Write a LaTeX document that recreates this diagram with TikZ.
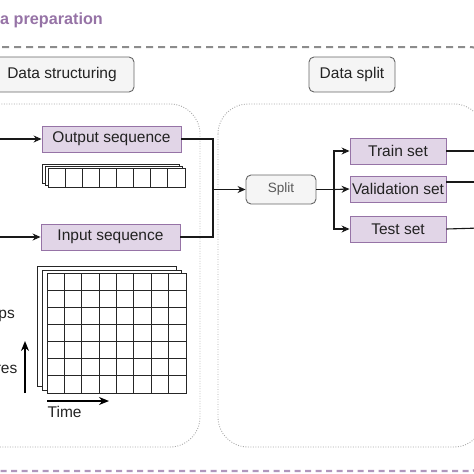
\documentclass[tikz,border=0pt]{standalone}
\usepackage{fontspec}
\setmainfont{Liberation Sans}
\usetikzlibrary{arrows.meta}
\definecolor{purpfill}{HTML}{E1D5E7}
\definecolor{purpline}{HTML}{9673A6}
\definecolor{grayfill}{HTML}{F5F5F5}
\definecolor{grayline}{HTML}{666666}
\definecolor{dotgray}{HTML}{A8A8A8}
\definecolor{txt}{HTML}{222222}
\begin{document}
\begin{tikzpicture}[x=1pt,y=-1pt,
  font=\fontsize{15.5}{18}\selectfont,
  pbox/.style={draw=purpline, fill=purpfill, line width=0.9pt, inner sep=0pt, text=txt},
  gbox/.style={draw=grayline, fill=grayfill, rounded corners=5pt, line width=0.9pt, inner sep=0pt, text=txt},
  conn/.style={draw=black!90, line width=1.1pt},
  arr/.style={conn, -{Stealth[length=8pt,width=7pt]}},
  axisarr/.style={draw=black, line width=1.6pt, -{Stealth[length=10pt,width=8pt]}},
  cell/.style={draw=black!85, line width=0.9pt},
  layer/.style={draw=black!85, line width=0.9pt, fill=white},
  dotrect/.style={draw=dotgray, line width=0.9pt, dash pattern=on 0.9pt off 1.6pt, rounded corners=30pt},
  outertop/.style={draw=black!45, line width=2pt, dash pattern=on 7pt off 5pt, rounded corners=15pt},
  outerbot/.style={draw=purpline!75, line width=2.2pt, dash pattern=on 6pt off 4.5pt, rounded corners=15pt},
  lbl/.style={inner sep=0pt, text=txt}]
\useasboundingbox (0,0) rectangle (474,474);
\clip (0,0) rectangle (474,474);

% outer dashed frame
\draw[outertop] (-10,47) -- (485,47) -- (485,120);
\draw[outerbot] (-10,471) -- (485,471) -- (485,400);

% title
\node[anchor=base west, inner sep=0pt, text=purpline, font=\bfseries\fontsize{16.2}{19}\selectfont] (title) at (0,24) {a preparation};

% dotted containers
\draw[dotrect] (-40,104) rectangle (200,447);
\draw[dotrect] (218,104) rectangle (484,447);

% header buttons
\node[gbox, minimum width=144pt, minimum height=35pt] (dstruct) at (62,74.5) {Data structuring};
\node[gbox, minimum width=86pt, minimum height=35pt] (dsplit) at (352,74.5) {Data split};

% sequence boxes
\node[pbox, minimum width=139pt, minimum height=26pt] (outseq) at (111.5,139) {Output sequence};
\node[pbox, minimum width=139pt, minimum height=26pt] (inseq) at (110.5,237) {Input sequence};

% split and sets
\node[gbox, minimum width=70pt, minimum height=29pt, text=black!65, font=\fontsize{13.5}{16}\selectfont] (split) at (281,189.5) {Split};
\node[pbox, minimum width=96pt, minimum height=26pt] (train) at (398,151) {Train set};
\node[pbox, minimum width=96pt, minimum height=26pt] (valid) at (398,189) {Validation set};
\node[pbox, minimum width=96pt, minimum height=26pt] (test) at (398,229) {Test set};

% free ends
\coordinate (inO) at (-5,139);
\coordinate (inI) at (-5,237);
\coordinate (j1) at (213,189.5);
\coordinate (j2) at (334,189.5);
\coordinate (oT) at (480,151);
\coordinate (oV) at (480,182);
\coordinate (oS) at (480,228);

% connectors
\draw[arr] (inO) -- (outseq.west);
\draw[arr] (inI) -- (inseq.west);
\draw[conn] (outseq.east) -| (j1);
\draw[conn] (inseq.east) -| (j1);
\draw[arr] (j1) -- (split.west);
\draw[conn] (split.east) -- (j2);
\draw[arr] (j2) |- (train.west);
\draw[arr] (j2) -- (valid.west);
\draw[arr] (j2) |- (test.west);
\draw[conn] (train.east) -- (oT);
\draw[conn] ([yshift=7pt]valid.east) -- (oV);
\draw[conn] (test.east) -- (oS);

% thin sequence array (3 layers)
\draw[layer] (42,164) rectangle ++(137,19);
\draw[layer] (45,166) rectangle ++(137,19);
\draw[layer] (48,168) rectangle ++(137,19);
\foreach \i in {1,...,7} \draw[cell] ({48+\i*137/8},168) -- ++(0,19);

% big grid (3 layers)
\draw[layer] (37,266) rectangle ++(139,120);
\draw[layer] (42,270) rectangle ++(139,120);
\draw[layer] (47,273) rectangle ++(139,120);
\foreach \i in {1,...,7} \draw[cell] ({47+\i*139/8},273) -- ++(0,120);
\foreach \j in {1,...,6} \draw[cell] (47,{273+\j*120/7}) -- ++(139,0);

% axes
\coordinate (tA) at (47,401);
\coordinate (tB) at (109,401);
\coordinate (fA) at (25,393);
\coordinate (fB) at (25,341);
\draw[axisarr] (tA) -- (tB);
\draw[axisarr] (fA) -- (fB);
\node[lbl, anchor=base west] (time) at (47.5,417) {Time};
\node[lbl, anchor=base east] (steps) at (15,318) {ps};
\node[lbl, anchor=base east] (feat) at (17.5,373) {res};
\end{tikzpicture}
\end{document}
